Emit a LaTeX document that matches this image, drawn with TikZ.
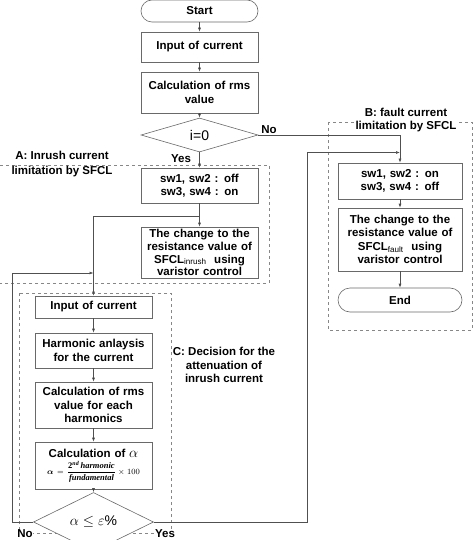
\documentclass[tikz,border=0pt]{standalone}
\usepackage{amsmath}
\usepackage{fontspec}
\setmainfont{Liberation Sans}
\newfontfamily\serifit{Liberation Serif}
\usetikzlibrary{shapes.geometric,arrows.meta,positioning}
\definecolor{boxgray}{RGB}{105,105,105}
\definecolor{linegray}{RGB}{80,80,80}
\definecolor{dashgray}{RGB}{135,135,135}

\begin{document}
\begin{tikzpicture}[x=1pt, y=1pt, >={Latex[length=4pt,width=3pt]}, line width=0.6pt,
        box/.style={rectangle, draw=boxgray, fill=white, text width=113pt, align=center, inner xsep=2pt, inner ysep=2pt, font=\bfseries\fontsize{11.5}{13.5}\selectfont},
        wide box/.style={box, text width=120pt},
        term/.style={box, rounded corners=11pt, minimum height=22pt},
        choice/.style={diamond, draw=boxgray, fill=white, inner sep=0pt, minimum width=117pt, minimum height=34pt},
        group/.style={draw=dashgray, dashed, line width=0.7pt},
        tag/.style={font=\bfseries\fontsize{11.5}{13.5}\selectfont, align=center, inner sep=0.5pt},
        flow/.style={->, draw=linegray}]
        \useasboundingbox (0,0) rectangle (474,-540);

        \draw[group] (0,-165) -- (269,-165) -- (269,-283) -- (0,-283);
        \draw[group] (328,-122) rectangle (472,-330);
        \draw[group] (19,-293) rectangle (171,-533);

        \node[term] (start) at (199.5,-11) {Start};
        \node[box, minimum height=30pt] (in1) [below of=start, node distance=36pt] {Input of current};
        \node[box, minimum height=41pt] (rms1) [below of=in1, node distance=45.5pt] {Calculation of rms\\value};
        \node[choice] (dec1) [below of=rms1, node distance=42.5pt] {\fontsize{14}{14}\selectfont i=0};
        \node[box, minimum height=35pt] (swA) [below of=dec1, node distance=50.5pt] {sw1, sw2 : off\\sw3, sw4 : on};
        \node[box, minimum height=51pt, inner ysep=0pt, font=\bfseries\fontsize{11.5}{12.8}\selectfont] (chA) [below of=swA, node distance=67pt] {The change to the\\resistance value of\\SFCL\textsubscript{\mdseries inrush}\ \ using\\varistor control};

        \node[wide box, minimum height=36pt] (swB) at (400,-181) {sw1, sw2 : on\\sw3, sw4 : off};
        \node[wide box, minimum height=63pt] (chB) [below of=swB, node distance=58.5pt] {The change to the\\resistance value of\\SFCL\textsubscript{\mdseries fault}\ \ using\\varistor control};
        \node[term, text width=120pt, minimum height=24pt, rounded corners=12pt] (endB) [below of=chB, node distance=60.5pt] {End};

        \node[box, minimum height=22pt] (in2) at (93.5,-307) {Input of current};
        \node[box, minimum height=35pt] (harm) [below of=in2, node distance=43.5pt] {Harmonic anlaysis\\for the current};
        \node[box, minimum height=46pt] (rms2) [below of=harm, node distance=54.5pt] {Calculation of rms\\value for each\\harmonics};
        \node[box, minimum height=47pt, inner ysep=1pt] (calpha) [below of=rms2, node distance=60.5pt] {Calculation of {\fontsize{14}{14}\selectfont$\alpha$}\\[3pt]
            {\fontsize{8.5}{10}\selectfont$\boldsymbol{\alpha}=\dfrac{\text{\serifit 2\textsuperscript{\bfseries\itshape nd}\,\bfseries\itshape harmonic}}{\text{\serifit\bfseries\itshape fundamental}}\times 100$}};
        \node[choice, minimum width=120pt, minimum height=36pt] (dec2) [below of=calpha, node distance=56.5pt] {\fontsize{14}{14}\selectfont$\alpha \le \varepsilon\%$};

        \node[tag] (yes1) at (181,-159) {Yes};
        \node[tag] (no1) at (269,-130) {No};
        \node[tag] (titleA) at (62,-164.5) {A: Inrush current\\[1.5pt]limitation by SFCL};
        \node[tag, fill=white] (titleB) at (406,-120) {B: fault current\\limitation by SFCL};
        \node[tag] (titleC) at (224,-365) {C: Decision for the\\attenuation of\\inrush current};
        \node[tag, fill=white] (no2) at (25,-534) {No};
        \node[tag, fill=white] (yes2) at (165,-534) {Yes};

        \coordinate (jA) at (199.5,-216);
        \coordinate (jB) at (400,-152.5);
        \coordinate (jC) at (93.5,-273);
        \coordinate (noturn) at (12,-522);
        \coordinate (yesturn) at (307,-522);

        \path[flow] (start) edge (in1)
        (in1) edge (rms1)
        (rms1) edge (dec1)
        (dec1) edge (swA)
        (swA) edge (chA)
        (swB) edge (chB)
        (chB) edge (endB)
        (in2) edge (harm)
        (harm) edge (rms2)
        (rms2) edge (calpha)
        (calpha) edge (dec2);

        \draw[flow] (dec1.east) -| (swB.north);
        \draw[flow] (jA) -| (in2.north);
        \draw[flow] (dec2.west) -- (noturn) |- (jC);
        \draw[flow] (dec2.east) -- (yesturn) |- (jB);

    \end{tikzpicture}
\end{document}
